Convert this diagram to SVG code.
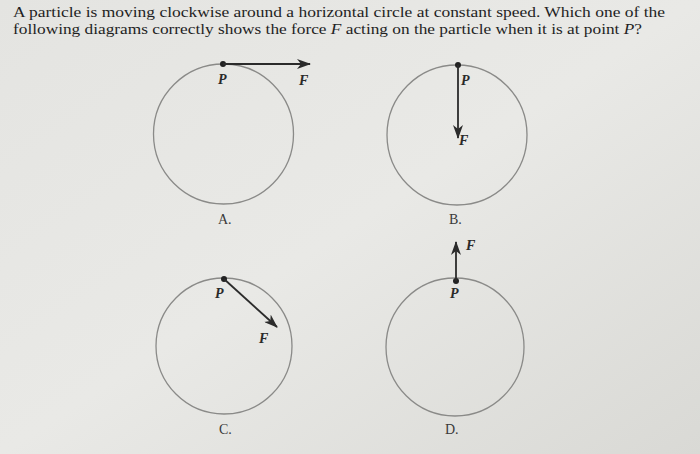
<svg xmlns="http://www.w3.org/2000/svg" width="700" height="454" viewBox="0 0 700 454">
<defs>
<linearGradient id="bg" x1="0" y1="0" x2="1" y2="1">
<stop offset="0" stop-color="#e4e4e1"/>
<stop offset="0.5" stop-color="#e9e9e6"/>
<stop offset="1" stop-color="#d9d9d5"/>
</linearGradient>
<marker id="ah" viewBox="0 0 14 10" refX="13" refY="5" markerWidth="14" markerHeight="10" markerUnits="userSpaceOnUse" orient="auto">
<path d="M0,0 L14,5 L0,10 L4,5 Z" fill="#2b2b2b"/>
</marker>
</defs>
<style>
.q{font-family:"Liberation Serif","Times New Roman",serif;font-size:14.5px;fill:#1f1f1f}
.lbl{font-family:"Liberation Serif","Times New Roman",serif;font-size:14px;fill:#2a2a2a;font-style:italic;font-weight:bold}
.opt{font-family:"Liberation Serif","Times New Roman",serif;font-size:14px;fill:#3a3a3a}
.circ{fill:none;stroke:#8a8a88;stroke-width:1.3}
.dot{fill:#222}
.arr{stroke:#2b2b2b;stroke-width:1.8;fill:none;marker-end:url(#ah)}
</style>
<rect width="700" height="454" fill="url(#bg)"/>
<g id="question">
<text class="q" x="13" y="17" textLength="652" lengthAdjust="spacingAndGlyphs">A particle is moving clockwise around a horizontal circle at constant speed.  Which one of the</text>
<text class="q" x="13" y="34" textLength="629" lengthAdjust="spacingAndGlyphs">following diagrams correctly shows the force <tspan font-style="italic">F</tspan> acting on the particle when it is at point <tspan font-style="italic">P</tspan>?</text>
</g>
<g id="diagramA">
<circle class="circ" cx="223.5" cy="134" r="70"/>
<circle class="dot" cx="223" cy="64" r="3"/>
<text class="lbl" x="218" y="84">P</text>
<text class="lbl" x="299" y="85">F</text>
<text class="opt" x="218" y="224">A.</text>
</g>
<g id="diagramB">
<circle class="circ" cx="457" cy="135" r="70"/>
<circle class="dot" cx="458" cy="65" r="3"/>
<text class="lbl" x="461" y="85">P</text>
<text class="lbl" x="459" y="145">F</text>
<text class="opt" x="449" y="224">B.</text>
</g>
<g id="diagramC">
<circle class="circ" cx="224" cy="346" r="68"/>
<circle class="dot" cx="224" cy="279" r="3"/>
<text class="lbl" x="215" y="298">P</text>
<text class="lbl" x="259" y="343">F</text>
<text class="opt" x="219" y="434">C.</text>
</g>
<g id="diagramD">
<circle class="circ" cx="455" cy="347" r="69"/>
<circle class="dot" cx="456" cy="281" r="3"/>
<text class="lbl" x="450" y="298">P</text>
<text class="lbl" x="466" y="250">F</text>
<text class="opt" x="445" y="434">D.</text>
</g>
<g id="connectors">
<line class="arr" x1="223" y1="64" x2="310" y2="64"/>
<line class="arr" x1="458" y1="65" x2="458" y2="138"/>
<line class="arr" x1="224" y1="279" x2="277" y2="327"/>
<line class="arr" x1="456" y1="281" x2="456" y2="242"/>
</g>
</svg>
